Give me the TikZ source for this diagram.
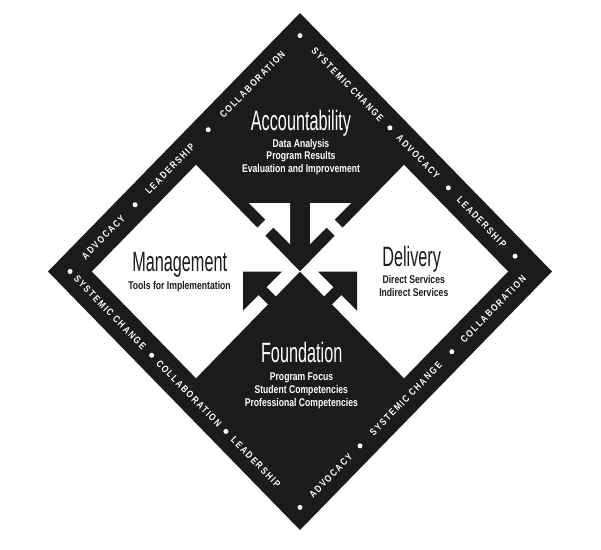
\documentclass[tikz,border=0pt]{standalone}
\usepackage{fontspec}
\setmainfont{Liberation Sans}
\newfontfamily\titlefont[FakeStretch=0.58]{Liberation Sans}
\newfontfamily\subfont[FakeStretch=0.77]{Liberation Sans}
\newfontfamily\bandfont[FakeStretch=0.82,LetterSpace=16]{Liberation Sans}
\definecolor{ink}{HTML}{1C1A1A}
\newcommand{\wsp}{\hspace{3.5pt}}
\tikzset{
  ttl/.style={font=\titlefont\fontsize{28}{30}\selectfont, anchor=base, inner sep=0pt},
  subt/.style={font=\subfont\bfseries\fontsize{11.2}{13}\selectfont, anchor=base, inner sep=0pt},
  band/.style={font=\bandfont\bfseries\fontsize{9.8}{10}\selectfont, text=white, sloped, inner sep=0pt},
  bdot/.style={circle, fill=white, inner sep=0pt, minimum size=5pt},
}
\begin{document}
\begin{tikzpicture}[x=1pt,y=-1pt]
\useasboundingbox (0,0) rectangle (601,549);
\fill[white] (0,0) rectangle (601,549);
% outer diamond
\fill[ink] (48,271.5) -- (300,13) -- (552,271.5) -- (300,530) -- cycle;
% white quadrants
\fill[white] (92,271.5) -- (196,164.9) -- (300,271.5) -- (196,378.1) -- cycle;
\fill[white] (300,271.5) -- (404,164.9) -- (508,271.5) -- (404,378.1) -- cycle;
% white arrows into Accountability
\fill[white] (290,203) -- (290,244) -- (273.4,227.4) -- (259.4,241.4) -- (251.6,233.6) -- (265.6,219.6) -- (249,203) -- cycle;
\fill[white] (310,203) -- (310,244) -- (326.6,227.4) -- (340.6,241.4) -- (348.4,233.6) -- (334.4,219.6) -- (351,203) -- cycle;
% black arrows from Foundation
\fill[ink] (243,271.5) -- (282,271.5) -- (266.4,287.1) -- (286.4,307.1) -- (278.6,314.9) -- (258.6,294.9) -- (243,310.5) -- cycle;
\fill[ink] (357,271.5) -- (318,271.5) -- (333.6,287.1) -- (313.6,307.1) -- (321.4,314.9) -- (341.4,294.9) -- (357,310.5) -- cycle;
% quadrant texts
\node[ttl, text=white] (acc) at (301,130) {Accountability};
\node[subt, text=white] (acc1) at (301,147.3) {Data Analysis};
\node[subt, text=white] (acc2) at (301,159.8) {Program Results};
\node[subt, text=white] (acc3) at (301,172.5) {Evaluation and Improvement};
\node[ttl, text=ink] (man) at (179.7,271.7) {Management};
\node[subt, text=ink] (man1) at (179.5,289.3) {Tools for Implementation};
\node[ttl, text=ink] (del) at (411.7,266.7) {Delivery};
\node[subt, text=ink] (del1) at (413.7,283.3) {Direct Services};
\node[subt, text=ink] (del2) at (413.8,296.7) {Indirect Services};
\node[ttl, text=white] (fou) at (301.7,362.7) {Foundation};
\node[subt, text=white] (fou1) at (301.5,380) {Program Focus};
\node[subt, text=white] (fou2) at (301.3,393.3) {Student Competencies};
\node[subt, text=white] (fou3) at (301.3,406) {Professional Competencies};
% band centre line corners
\coordinate (L) at (70,271.5);
\coordinate (T) at (300,35.6);
\coordinate (R) at (530,271.5);
\coordinate (B) at (300,507.4);
\node[bdot] (dT) at (T) {};
\node[bdot] (dL) at (L) {};
\node[bdot] (dB) at (B) {};
% upper left
\path (L) -- (T)
  node[band, pos=0.145] (ul1) {ADVOCACY}
  node[bdot, pos=0.283] (uld1) {}
  node[band, pos=0.435] (ul2) {LEADERSHIP}
  node[bdot, pos=0.601] (uld2) {}
  node[band, pos=0.793] (ul3) {COLLABORATION};
% upper right
\path (T) -- (R)
  node[band, pos=0.207] (ur1) {SYSTEMIC\wsp CHANGE}
  node[bdot, pos=0.391] (urd1) {}
  node[band, pos=0.514] (ur2) {ADVOCACY}
  node[bdot, pos=0.645] (urd2) {}
  node[band, pos=0.79] (ur3) {LEADERSHIP}
  node[bdot, pos=0.935] (urd3) {};
% lower right
\path (B) -- (R)
  node[band, pos=0.134] (lr1) {ADVOCACY}
  node[bdot, pos=0.261] (lrd1) {}
  node[band, pos=0.46] (lr2) {SYSTEMIC\wsp CHANGE}
  node[bdot, pos=0.66] (lrd2) {}
  node[band, pos=0.84] (lr3) {COLLABORATION};
% lower left
\path (L) -- (B)
  node[band, pos=0.174] (ll1) {SYSTEMIC\wsp CHANGE}
  node[bdot, pos=0.355] (lld1) {}
  node[band, pos=0.517] (ll2) {COLLABORATION}
  node[bdot, pos=0.678] (lld2) {}
  node[band, pos=0.808] (ll3) {LEADERSHIP};
\end{tikzpicture}
\end{document}
